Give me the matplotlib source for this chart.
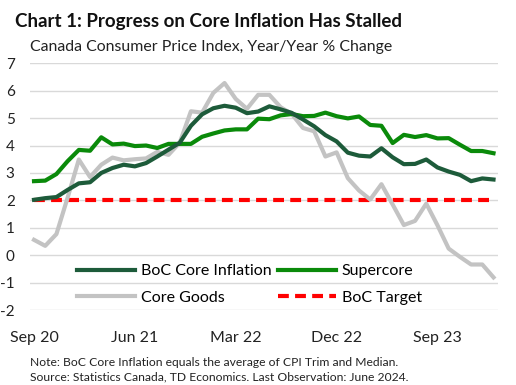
import numpy as np
import matplotlib
matplotlib.use("Agg")
import matplotlib.pyplot as plt

plt.rcParams['font.family'] = ['Lato', 'DejaVu Sans']
plt.rcParams['axes.unicode_minus'] = False

# monthly points, first one labelled Sep 20
tick_labels = ["Sep 20", "Jun 21", "Mar 22", "Dec 22", "Sep 23"]
tick_idx = [0, 9, 18, 27, 36]

core = [2.02, 2.08, 2.12, 2.38, 2.62, 2.66, 3.00, 3.18, 3.30, 3.24,
        3.36, 3.60, 3.85, 4.10, 4.72, 5.14, 5.36, 5.45, 5.38, 5.18,
        5.24, 5.43, 5.32, 5.19, 4.95, 4.70, 4.38, 4.15, 3.74, 3.63,
        3.60, 3.90, 3.57, 3.32, 3.33, 3.49, 3.20, 3.05, 2.93, 2.70,
        2.80, 2.76]
supercore = [2.70, 2.72, 2.96, 3.43, 3.84, 3.81, 4.30, 4.04, 4.07, 3.98,
             4.00, 3.91, 4.06, 4.06, 4.06, 4.32, 4.44, 4.55, 4.59, 4.59,
             4.98, 4.96, 5.10, 5.15, 5.07, 5.08, 5.20, 5.07, 4.99, 5.06,
             4.75, 4.72, 4.09, 4.39, 4.31, 4.38, 4.26, 4.27, 4.03, 3.80,
             3.80, 3.72]
core_goods = [0.56, 0.34, 0.77, 2.10, 3.49, 2.85, 3.30, 3.56, 3.46, 3.50,
              3.53, 3.77, 3.66, 4.10, 5.25, 5.20, 5.92, 6.28, 5.70, 5.34,
              5.85, 5.85, 5.40, 5.15, 4.64, 4.52, 3.60, 3.75, 2.81, 2.36,
              2.03, 2.59, 1.85, 1.10, 1.25, 1.88, 1.09, 0.24, -0.06, -0.34,
              -0.34, -0.81]
target = [2.0] * len(core)

x = np.arange(len(core))

fig = plt.figure(figsize=(5.16, 3.85), dpi=100)
ax = fig.add_axes([0.0581, 0.1948, 0.907, 0.6408])

ax.set_ylim(-2, 7)
ax.set_xlim(-0.36, 41.4)
ax.set_yticks(range(-2, 8))
ax.yaxis.grid(True, color='#d9d9d9', linewidth=1)
ax.set_axisbelow(True)
for s in ax.spines.values():
    s.set_visible(False)
ax.tick_params(length=0, labelsize=11.5, colors='#222222')
ax.tick_params(axis='y', pad=11, labelsize=11)
ax.tick_params(axis='x', pad=15)
ax.set_xticks(tick_idx)
ax.set_xticklabels(tick_labels)

l_t, = ax.plot(x, target, color='#ff0000', lw=3, dashes=(2.6, 1.5), label='BoC Target')
l_g, = ax.plot(x, core_goods, color='#c3c3c3', lw=3, label='Core Goods')
l_s, = ax.plot(x, supercore, color='#0a8a0a', lw=3, label='Supercore')
l_c, = ax.plot(x, core, color='#1d5b3a', lw=3, label='BoC Core Inflation')

ax.legend(handles=[l_c, l_g, l_s, l_t], ncol=2, frameon=False,
          loc='upper left', bbox_to_anchor=(0.07, 0.245),
          fontsize=11.5, handlelength=3.6, handletextpad=0.4,
          columnspacing=0.4, labelspacing=0.8)

fig.text(15 / 516, 1 - 22 / 385, "Chart 1: Progress on Core Inflation Has Stalled",
         fontsize=13.5, fontweight='bold', va='center', ha='left', color='#111111')
fig.text(30 / 516, 1 - 47 / 385, "Canada Consumer Price Index, Year/Year % Change",
         fontsize=11.4, va='center', ha='left', color='#222222')
fig.text(30 / 516, 1 - 362 / 385,
         "Note: BoC Core Inflation equals the average of CPI Trim and Median.",
         fontsize=8.7, va='center', ha='left', color='#222222')
fig.text(30 / 516, 1 - 377 / 385,
         "Source: Statistics Canada, TD Economics. Last Observation: June 2024.",
         fontsize=8.7, va='center', ha='left', color='#222222')

fig.savefig("out.png", dpi=100)
